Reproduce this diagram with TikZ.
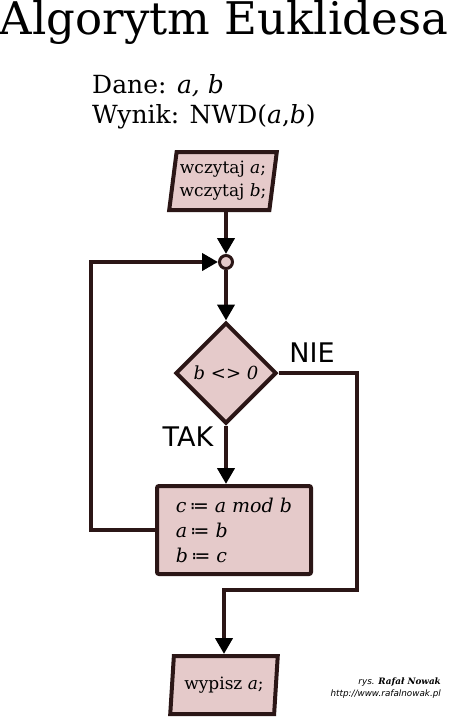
\documentclass[tikz,border=0pt]{standalone}
\usepackage{fontspec}
\setmainfont{DejaVu Serif}
\newfontfamily\labelfont{DejaVu Sans}
\usetikzlibrary{shapes.geometric,arrows.meta}
\definecolor{boxfill}{HTML}{E5CACA}
\definecolor{edge}{HTML}{2B1616}

\begin{document}
\begin{tikzpicture}[x=1pt,y=-1pt,>={Triangle[length=16pt,width=17pt,color=black]}]
    \tikzset{
      block/.style={draw=edge, fill=boxfill, line width=4pt, inner sep=0pt,
        font=\fontsize{17}{23}\selectfont, align=left},
      io/.style={block, trapezium, trapezium left angle=80, trapezium right angle=100,
        trapezium stretches=true, minimum width=108pt, minimum height=58pt, align=center},
      flow/.style={draw=edge, line width=4pt},
      answer/.style={font=\labelfont\fontsize{27}{27}\selectfont}
    }
    \useasboundingbox (0,0) rectangle (448,717);

    % Heading
    \node[anchor=base, inner sep=0pt] (title) at (224,35) {\fontsize{45}{45}\selectfont Algorytm Euklidesa};
    \node[anchor=base west, align=left, inner sep=0pt, font=\fontsize{25}{30}\selectfont] (spec) at (92,123)
      {Dane: \textit{a, b}\\Wynik: NWD(\textit{a},\textit{b})};

    % Main column
    \node[io] (read)  at (223,181) {wczytaj \textit{a};\\wczytaj \textit{b};};
    \node[circle, draw=edge, fill=boxfill, line width=3pt, minimum size=13pt, inner sep=0pt]
      (join) at (226,262) {};
    \node[block, diamond, minimum width=101pt, minimum height=101pt, font=\fontsize{18}{18}\selectfont\itshape]
      (test) at (226,373) {b <> 0};
    \node[block, rectangle, rounded corners=2pt, minimum width=154pt, minimum height=88pt,
      inner xsep=13pt, font=\fontsize{19}{25}\selectfont\itshape, anchor=west]
      (calc) at (155,530) {c\,{\labelfont ≔} a mod b\\a\,{\labelfont ≔} b\\b\,{\labelfont ≔} c};
    \node[io] (print) at (224,685) {wypisz \textit{a};};

    % Branch labels
    \node[answer] (nie) at (312,353) {NIE};
    \node[answer] (tak) at (188,437) {TAK};

    % Credits
    \node[anchor=base east, align=right, inner sep=0pt,
      font=\fontsize{8.8}{12}\selectfont\itshape] (credit) at (441,696)
      {{\labelfont rys.} \textbf{Rafał Nowak}\\{\labelfont http://www.rafalnowak.pl}};

    % Arrows
    \coordinate (bend) at (357,590);
    \draw[flow,->] (read.south -| join.north) -- (join.north);
    \draw[flow,->] (join.south) -- (test.north);
    \draw[flow,->] (test.south) -- (calc.north -| test.south);
    \draw[flow,->] (calc.west) -- ++(-64,0) |- (join.west);
    \draw[flow,->] (test.east) -| (bend) -| (print.north);

  \end{tikzpicture}
\end{document}
